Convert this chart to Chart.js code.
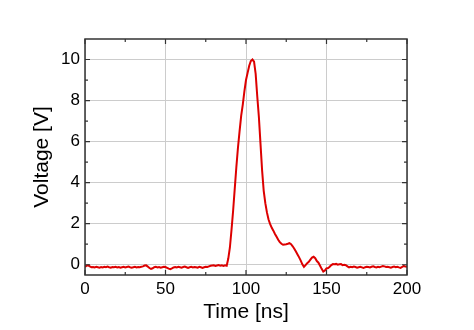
<!DOCTYPE html>
<html>
<head>
<meta charset="utf-8">
<script src="https://cdn.jsdelivr.net/npm/chart.js@4.4.0/dist/chart.umd.min.js"></script>
<style>
    html, body { margin: 0; padding: 0; background: #fff; }
    #wrap { width: 474px; height: 330px; }
</style>
</head>
<body>
<div id="wrap"><canvas id="pulsoChart" width="474" height="330"></canvas></div>
<script>
// =======================
// DATOS - pulso de tensión
// =======================

const tiempos = [
    0, 1, 2, 3, 4, 5, 6, 7, 8, 9, 10, 11, 12, 13, 14, 15, 16, 17, 18, 19,
    20, 21, 22, 23, 24, 25, 26, 27, 28, 29, 30, 31, 32, 33, 34, 35, 36, 37, 38, 39,
    40, 41, 42, 43, 44, 45, 46, 47, 48, 49, 50, 51, 52, 53, 54, 55, 56, 57, 58, 59,
    60, 61, 62, 63, 64, 65, 66, 67, 68, 69, 70, 71, 72, 73, 74, 75, 76, 77, 78, 79,
    80, 81, 82, 83, 84, 85, 86, 87, 88, 89, 90, 91, 92, 93, 94, 95, 96, 97, 98, 99,
    100, 101, 102, 103, 104, 105, 106, 107, 108, 109, 110, 111, 112, 113, 114, 115, 116, 117, 118, 119,
    120, 121, 122, 123, 124, 125, 126, 127, 128, 129, 130, 131, 132, 133, 134, 135, 136, 137, 138, 139,
    140, 141, 142, 143, 144, 145, 146, 147, 148, 149, 150, 151, 152, 153, 154, 155, 156, 157, 158, 159,
    160, 161, 162, 163, 164, 165, 166, 167, 168, 169, 170, 171, 172, 173, 174, 175, 176, 177, 178, 179,
    180, 181, 182, 183, 184, 185, 186, 187, 188, 189, 190, 191, 192, 193, 194, 195, 196, 197, 198, 199,
    200
];

const voltajes = [
    -0.10, -0.05, -0.03, -0.08, -0.12, -0.11, -0.13, -0.10, -0.12, -0.14, -0.11, -0.13, -0.10, -0.12, -0.09, -0.12, -0.14, -0.11, -0.12, -0.10,
    -0.13, -0.11, -0.14, -0.12, -0.10, -0.13, -0.11, -0.09, -0.12, -0.14, -0.12, -0.10, -0.13, -0.11, -0.12, -0.10, -0.08, -0.04, -0.03, -0.09,
    -0.16, -0.20, -0.17, -0.12, -0.10, -0.13, -0.11, -0.14, -0.12, -0.10, -0.11, -0.15, -0.19, -0.22, -0.18, -0.13, -0.11, -0.13, -0.10, -0.12,
    -0.14, -0.11, -0.09, -0.12, -0.15, -0.12, -0.10, -0.13, -0.11, -0.12, -0.14, -0.10, -0.12, -0.15, -0.12, -0.10, -0.11, -0.08, -0.05, -0.04,
    -0.03, -0.06, -0.04, -0.02, -0.05, -0.03, -0.06, -0.03, -0.05, 0.30, 0.84, 1.70, 2.63, 3.70, 4.75, 5.70, 6.50, 7.25, 7.80, 8.45,
    9.00, 9.35, 9.70, 9.93, 10.00, 9.90, 9.30, 8.20, 7.20, 5.90, 4.60, 3.60, 3.00, 2.55, 2.20, 1.98, 1.80, 1.66, 1.50, 1.36,
    1.22, 1.10, 1.02, 0.98, 0.99, 1.00, 1.02, 1.05, 1.00, 0.90, 0.78, 0.64, 0.50, 0.36, 0.20, 0.02, -0.10, -0.02, 0.08, 0.14,
    0.25, 0.35, 0.39, 0.32, 0.18, 0.10, -0.05, -0.20, -0.33, -0.28, -0.18, -0.16, -0.10, -0.02, 0.03, 0.02, 0.04, 0.00, 0.02, 0.03,
    -0.02, 0.00, -0.02, -0.08, -0.13, -0.10, -0.12, -0.09, -0.11, -0.14, -0.12, -0.10, -0.13, -0.16, -0.12, -0.10, -0.11, -0.13, -0.10, -0.08,
    -0.11, -0.13, -0.10, -0.12, -0.09, -0.06, -0.08, -0.11, -0.10, -0.12, -0.14, -0.11, -0.09, -0.12, -0.10, -0.13, -0.15, -0.11, -0.06, -0.09,
    -0.10
];

const ticksX = [0, 50, 100, 150, 200];
const ticksXMenores = [25, 75, 125, 175];
const ticksY = [0, 2, 4, 6, 8, 10];
const ticksYMenores = [1, 3, 5, 7, 9];

const fuente = "'Liberation Sans', Arial, sans-serif";

// Marco y marcas hacia adentro (estilo Origin)
const marcoPlugin = {
    id: "marco",
    afterDatasetsDraw(chart) {
        const { ctx, chartArea: a, scales } = chart;
        const sx = scales.x, sy = scales.y;
        ctx.save();
        ctx.strokeStyle = "#333";
        ctx.lineWidth = 1.2;
        ctx.beginPath();
        const marcasX = (valores, largo) => {
            valores.forEach(v => {
                const px = sx.getPixelForValue(v);
                ctx.moveTo(px, a.bottom); ctx.lineTo(px, a.bottom - largo);
                ctx.moveTo(px, a.top); ctx.lineTo(px, a.top + largo);
            });
        };
        const marcasY = (valores, largo) => {
            valores.forEach(v => {
                const py = sy.getPixelForValue(v);
                ctx.moveTo(a.left, py); ctx.lineTo(a.left + largo, py);
                ctx.moveTo(a.right, py); ctx.lineTo(a.right - largo, py);
            });
        };
        marcasX(ticksX, 5);
        marcasX(ticksXMenores, 3);
        marcasY(ticksY, 5);
        marcasY(ticksYMenores, 3);
        ctx.stroke();
        ctx.lineWidth = 1.5;
        ctx.strokeRect(a.left, a.top, a.right - a.left, a.bottom - a.top);
        ctx.restore();
    }
};

const ctx = document.getElementById("pulsoChart").getContext("2d");
const pulsoChart = new Chart(ctx, {
    type: "line",
    data: {
        datasets: [{
            data: tiempos.map((t, i) => ({ x: t, y: voltajes[i] })),
            borderColor: "#dd0000",
            borderWidth: 2,
            pointRadius: 0,
            tension: 0,
            fill: false
        }]
    },
    options: {
        responsive: false,
        devicePixelRatio: 1,
        animation: false,
        layout: { padding: { top: 39, right: 67, left: 0, bottom: 0 } },
        plugins: {
            legend: { display: false },
            tooltip: { enabled: false }
        },
        scales: {
            x: {
                type: "linear",
                min: 0,
                max: 200,
                afterBuildTicks: s => { s.ticks = ticksX.map(v => ({ value: v })); },
                afterFit: s => { s.height = 55; },
                grid: { color: "#cccccc", lineWidth: 1, drawTicks: false },
                border: { display: false },
                ticks: { color: "#000", padding: 4, font: { family: fuente, size: 17 } },
                title: {
                    display: true,
                    text: "Time [ns]",
                    color: "#000",
                    padding: { top: 0, bottom: 5 },
                    font: { family: fuente, size: 21 }
                }
            },
            y: {
                type: "linear",
                min: -0.5,
                max: 11,
                afterBuildTicks: s => { s.ticks = ticksY.map(v => ({ value: v })); },
                afterFit: s => { s.width = 85; },
                grid: { color: "#cccccc", lineWidth: 1, drawTicks: false },
                border: { display: false },
                ticks: { color: "#000", padding: 5, font: { family: fuente, size: 17 } },
                title: {
                    display: true,
                    text: "Voltage [V]",
                    color: "#000",
                    padding: { top: 30, bottom: 0 },
                    font: { family: fuente, size: 21 }
                }
            }
        }
    },
    plugins: [marcoPlugin]
});
</script>
</body>
</html>
